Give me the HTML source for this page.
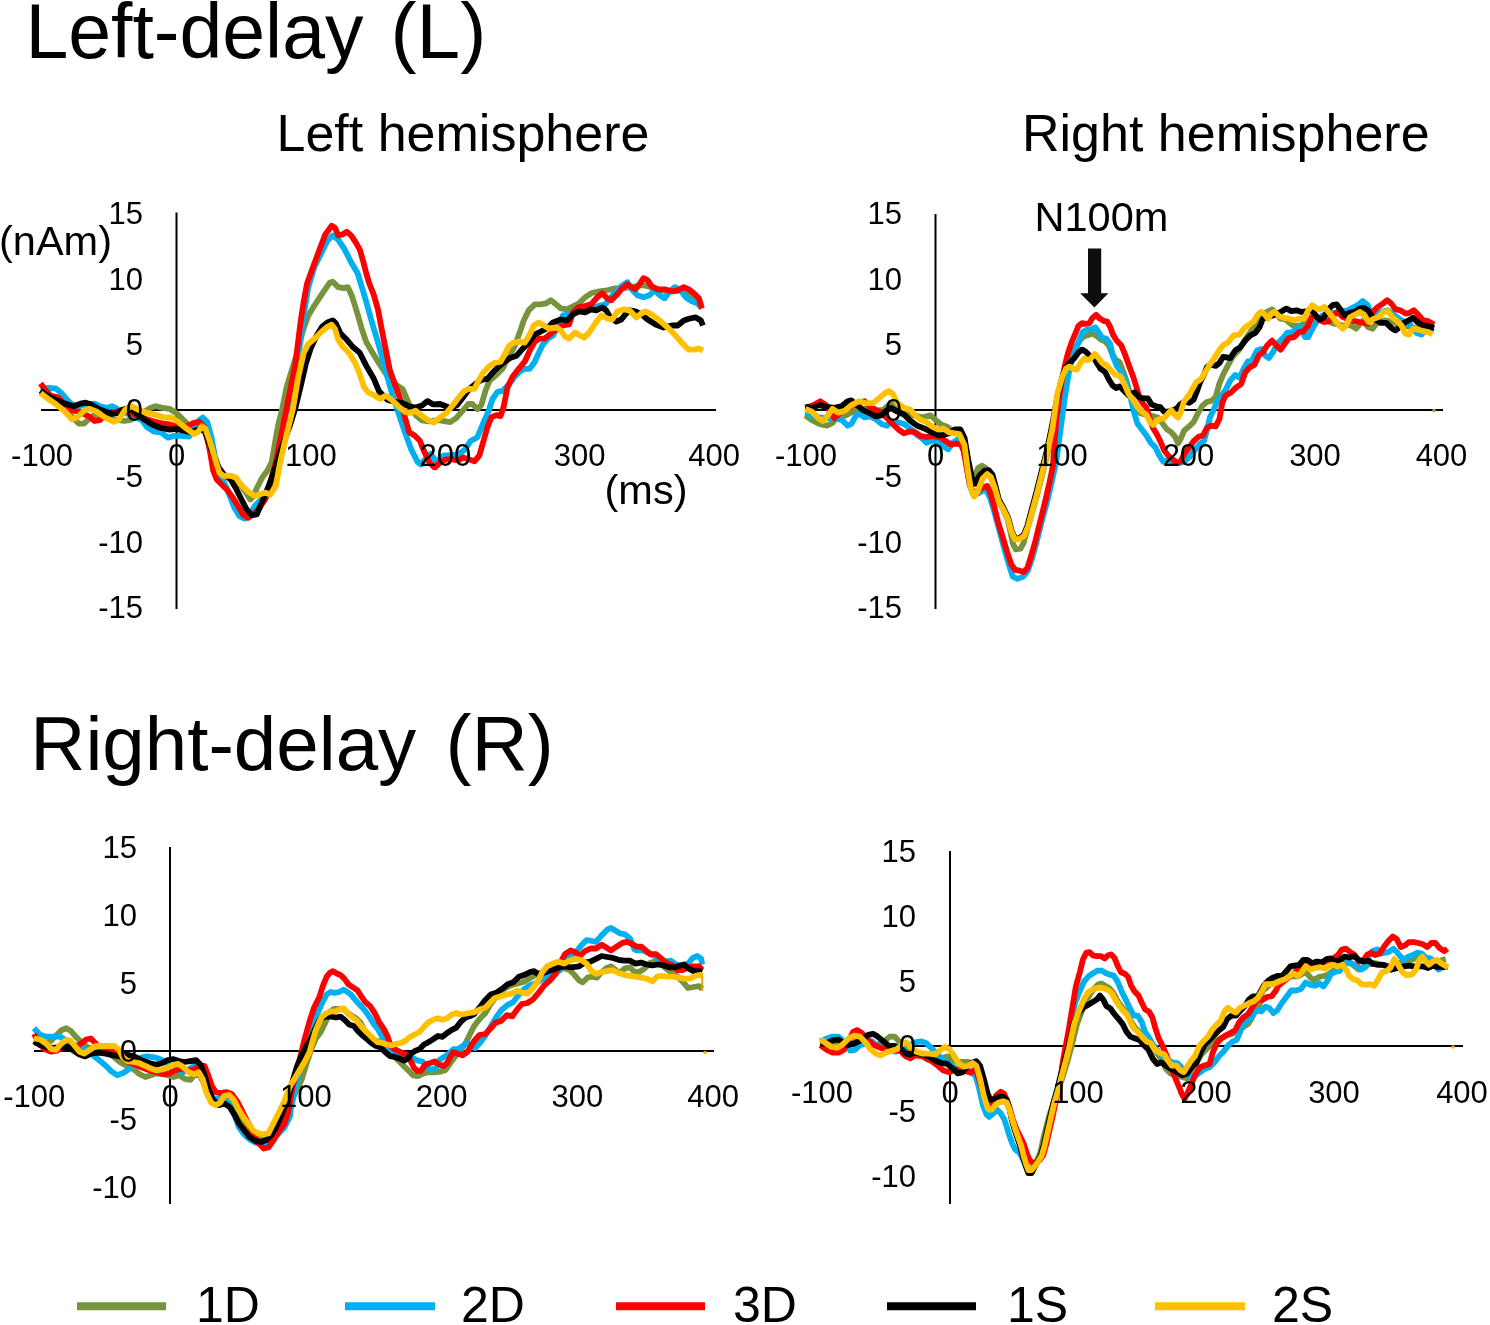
<!DOCTYPE html>
<html><head><meta charset="utf-8"><title>Figure</title>
<style>
html,body{margin:0;padding:0;background:#fff;}
body{width:1490px;height:1325px;overflow:hidden;font-family:"Liberation Sans",sans-serif;}
svg{display:block}
.t{font-family:"Liberation Sans",sans-serif;fill:#000}
.k{font-family:"Liberation Sans",sans-serif;fill:#000;font-size:31px}
.c path{fill:none;stroke-width:5.8;stroke-linejoin:round;stroke-linecap:butt}
.ax line{stroke:#000;stroke-width:2}
</style></head><body>
<svg width="1490" height="1325" viewBox="0 0 1490 1325">
<rect width="1490" height="1325" fill="#fff"/>

<g class="ax">
<line x1="176.5" y1="212.5" x2="176.5" y2="609"/>
<line x1="41" y1="410" x2="716" y2="410"/>
<line x1="935.5" y1="214" x2="935.5" y2="609"/>
<line x1="805" y1="410" x2="1443" y2="410"/>
<line x1="170" y1="847" x2="170" y2="1204"/>
<line x1="34" y1="1051" x2="714" y2="1051"/>
<line x1="950" y1="851" x2="950" y2="1204"/>
<line x1="820" y1="1046" x2="1463" y2="1046"/>
</g>
<g class="c">
<path d="M40.5 392.2 L50.9 399.2 L64.9 409.7 L73.6 418.4 L78.9 423.6 L84.1 423.6 L88.5 419.3 L94.6 414.9 L103.3 414.9 L113.8 419.3 L124.2 421.0 L129.5 420.1 L134.7 417.5 L143.4 412.3 L150.4 407.9 L155.6 406.2 L162.6 407.9 L169.6 408.8 L176.6 413.2 L181.8 418.4 L187.0 423.6 L194.0 428.9 L202.8 427.1 L209.7 442.8 L215.0 460.3 L219.3 471.6 L223.7 475.6 L230.7 476.0 L235.9 478.1 L241.1 485.6 L246.4 493.4 L250.2 499.5 L253.4 496.6 L256.8 488.2 L262.1 477.7 L267.3 470.7 L271.7 462.0 L278.0 425.8 L282.3 408.6 L286.6 387.1 L291.9 369.9 L297.3 352.7 L302.7 331.2 L308.1 316.1 L314.5 305.3 L323.1 292.4 L329.6 282.8 L332.8 281.7 L338.2 287.1 L343.6 288.1 L347.9 287.1 L352.2 296.7 L357.5 313.9 L361.8 329.0 L366.2 341.9 L372.6 352.7 L379.1 363.4 L387.7 376.3 L396.3 384.9 L402.7 389.2 L409.2 404.3 L415.6 415.0 L422.1 420.4 L428.5 421.5 L438.1 420.1 L444.2 421.1 L450.2 422.1 L456.2 418.1 L462.3 411.1 L468.3 404.0 L472.3 404.0 L477.4 409.1 L481.4 405.0 L485.4 390.9 L489.5 380.9 L496.5 374.8 L502.6 368.8 L508.6 356.7 L514.6 346.6 L519.7 332.6 L523.7 320.5 L528.7 310.4 L534.8 304.4 L540.8 304.4 L545.8 303.4 L550.9 300.3 L554.9 303.4 L560.9 308.4 L567.0 309.4 L573.0 306.4 L579.1 303.4 L585.1 297.3 L591.1 293.3 L599.2 291.3 L607.2 290.3 L615.3 288.3 L621.3 288.3 L631.4 287.2 L641.5 285.2 L647.5 286.2 L653.6 288.3 L661.6 290.3 L671.7 291.3 L681.7 290.3 L691.8 296.3 L701.9 308.4" stroke="#77933C"/>
<path d="M40.5 388.7 L49.2 387.9 L56.2 388.7 L61.4 393.1 L66.6 399.2 L71.9 404.4 L78.9 406.2 L87.6 404.4 L94.6 403.6 L99.8 406.2 L106.8 407.9 L112.0 406.2 L117.2 408.8 L122.5 412.3 L131.2 414.9 L141.7 420.1 L146.9 427.1 L153.9 431.5 L160.9 432.3 L167.9 437.6 L174.8 435.8 L181.8 435.8 L188.8 436.7 L194.0 430.6 L199.3 420.1 L202.8 417.5 L207.1 421.9 L211.5 437.6 L215.0 456.8 L220.2 474.2 L228.9 493.4 L234.2 507.4 L239.4 516.1 L244.6 518.7 L249.9 514.4 L255.1 505.6 L262.1 498.7 L269.1 491.7 L271.5 483.9 L278.0 458.1 L284.4 427.9 L290.9 397.8 L297.3 365.6 L302.7 322.5 L308.1 288.1 L314.5 266.6 L323.1 249.4 L327.4 240.8 L332.8 235.4 L338.2 239.7 L344.6 249.4 L351.1 262.3 L357.5 273.1 L362.9 290.3 L367.2 305.3 L372.6 324.7 L379.1 346.2 L385.5 369.9 L392.0 393.5 L398.4 412.9 L404.9 432.2 L411.3 449.5 L417.8 462.4 L421.0 464.5 L424.2 460.2 L430.7 453.8 L436.1 461.4 L444.2 455.4 L450.2 455.4 L458.3 454.4 L465.3 449.3 L470.3 441.3 L477.4 437.2 L482.4 425.2 L488.5 411.1 L492.5 399.0 L497.5 391.9 L502.6 390.9 L508.6 384.9 L514.6 376.8 L520.7 370.8 L524.7 368.8 L529.7 368.8 L534.8 361.7 L538.8 352.7 L542.8 344.6 L547.9 338.6 L552.9 335.6 L558.9 324.5 L563.0 315.4 L569.0 314.4 L577.0 310.4 L587.1 308.4 L597.2 306.4 L605.2 304.4 L613.3 294.3 L621.3 286.2 L627.4 282.2 L632.4 290.3 L637.4 295.3 L643.5 297.3 L649.5 295.3 L654.6 290.3 L659.6 295.3 L664.6 298.3 L669.7 291.3 L674.7 287.2 L679.7 289.3 L685.8 297.3 L691.8 301.3 L697.9 303.4 L701.9 306.4" stroke="#00B0F0"/>
<path d="M40.5 383.5 L45.7 390.5 L50.9 395.7 L57.9 397.4 L64.9 404.4 L71.9 410.5 L77.1 411.4 L82.3 413.2 L89.3 416.6 L94.6 421.0 L99.8 420.1 L105.0 414.9 L112.0 413.2 L120.7 410.5 L127.7 411.4 L134.7 414.9 L141.7 417.5 L152.1 421.0 L162.6 423.6 L169.6 424.5 L178.3 427.1 L187.0 426.2 L194.0 422.8 L199.3 421.9 L204.5 427.1 L209.7 449.8 L213.2 470.7 L216.7 479.5 L221.9 484.7 L227.2 489.9 L232.4 496.9 L237.7 505.6 L242.9 514.4 L248.1 517.9 L253.4 514.4 L258.6 509.1 L265.6 498.7 L270.4 481.7 L275.8 462.4 L282.3 430.1 L288.7 397.8 L295.2 365.6 L300.5 322.5 L303.8 301.0 L307.0 283.8 L312.4 268.8 L318.8 251.6 L325.3 234.4 L331.7 225.8 L335.0 227.9 L338.2 235.4 L342.5 234.4 L346.8 231.8 L351.1 235.4 L355.4 241.9 L359.7 249.4 L362.9 260.2 L366.2 273.1 L369.4 283.8 L373.7 294.6 L378.0 309.6 L381.2 326.8 L385.5 348.4 L389.8 369.9 L395.2 384.9 L400.6 400.0 L404.9 417.2 L409.2 432.2 L414.5 435.5 L419.9 440.8 L424.2 451.6 L429.6 462.4 L433.9 467.1 L435.1 467.4 L440.1 462.4 L446.2 459.4 L452.2 459.4 L458.3 460.4 L463.3 457.4 L469.3 459.4 L474.4 461.4 L479.4 455.4 L483.4 441.3 L487.4 427.2 L491.5 417.1 L496.5 415.1 L500.5 416.1 L503.6 407.0 L507.6 386.9 L512.6 376.8 L518.7 368.8 L524.7 361.7 L529.7 350.7 L534.8 341.6 L539.8 338.6 L544.8 338.6 L550.9 333.6 L556.9 328.5 L563.0 325.5 L569.0 324.5 L573.0 312.4 L578.1 307.4 L584.1 306.4 L591.1 304.4 L597.2 297.3 L602.2 293.3 L607.2 298.3 L611.3 300.3 L616.3 295.3 L621.3 289.3 L627.4 284.2 L631.4 287.2 L635.4 289.3 L639.5 284.2 L643.5 278.2 L647.5 280.2 L651.5 286.2 L657.6 289.3 L664.6 289.3 L671.7 291.3 L677.7 290.3 L683.8 287.2 L688.8 289.3 L693.8 293.3 L698.9 298.3 L701.9 308.4" stroke="#FF0000"/>
<path d="M40.5 390.5 L47.4 395.7 L56.2 400.1 L64.9 403.6 L73.6 406.2 L80.6 403.6 L85.8 402.7 L91.1 404.4 L98.1 408.8 L105.0 411.4 L112.0 414.0 L117.2 413.2 L122.5 409.7 L129.5 407.9 L138.2 414.9 L145.2 420.1 L152.1 424.5 L160.9 428.0 L169.6 429.7 L176.6 428.9 L183.6 430.6 L190.5 432.3 L197.5 429.7 L204.5 430.6 L211.5 449.8 L218.5 467.2 L223.7 474.2 L230.7 479.5 L235.9 488.2 L241.1 498.7 L246.4 509.1 L251.6 515.2 L256.8 514.4 L264.2 496.8 L270.4 481.7 L276.9 462.4 L283.3 443.0 L289.8 425.8 L295.2 408.6 L300.5 387.1 L305.9 363.4 L310.7 348.4 L316.7 335.5 L322.1 326.8 L327.4 322.5 L332.8 320.4 L336.0 323.6 L340.3 333.3 L346.8 339.8 L353.2 347.3 L359.7 352.7 L366.2 365.6 L373.7 378.5 L379.1 391.4 L387.7 400.0 L396.3 402.1 L402.7 403.2 L409.2 406.4 L415.6 407.5 L422.1 405.4 L427.5 401.1 L432.8 404.3 L440.1 404.0 L445.2 406.0 L450.2 408.1 L457.2 405.0 L463.3 397.0 L469.3 388.9 L475.4 383.9 L481.4 379.9 L487.4 378.9 L492.5 372.8 L498.5 366.8 L504.6 361.7 L510.6 357.7 L516.6 355.7 L522.7 348.7 L528.7 342.6 L534.8 334.6 L540.8 331.5 L546.8 328.5 L552.9 322.5 L560.9 319.5 L567.0 320.5 L573.0 314.4 L579.1 311.4 L585.1 312.4 L591.1 309.4 L596.2 310.4 L602.2 307.4 L606.2 310.4 L610.3 317.4 L616.3 321.5 L621.3 319.5 L625.4 314.4 L629.4 310.4 L635.4 311.4 L641.5 314.4 L647.5 319.5 L655.6 324.5 L663.6 327.5 L671.7 325.5 L677.7 325.5 L683.8 320.5 L689.8 318.5 L695.8 317.4 L700.9 320.5 L702.9 325.5" stroke="#000000"/>
<path d="M40.5 393.1 L47.4 398.3 L56.2 404.4 L64.9 411.4 L71.9 419.3 L77.1 417.5 L84.1 410.5 L89.3 408.8 L96.3 411.4 L105.0 417.5 L113.8 421.9 L119.0 419.3 L125.1 409.7 L131.2 406.2 L138.2 409.7 L145.2 412.3 L155.6 414.9 L164.4 417.5 L171.3 417.5 L178.3 421.9 L187.0 428.9 L194.0 434.1 L198.4 431.5 L201.9 426.2 L205.4 428.9 L209.7 441.1 L215.0 458.5 L219.3 472.5 L223.7 476.0 L230.7 475.6 L235.9 477.7 L241.1 484.7 L248.1 491.7 L255.1 496.0 L260.3 494.3 L265.6 492.6 L270.4 494.6 L275.8 486.0 L280.1 462.4 L286.6 434.4 L293.0 408.6 L298.4 376.3 L303.8 352.7 L308.1 344.1 L314.5 338.7 L321.0 332.2 L327.4 326.8 L331.7 324.7 L335.0 329.0 L338.2 339.8 L342.5 346.2 L348.9 352.7 L355.4 363.4 L359.7 374.2 L364.0 387.1 L368.3 392.5 L374.8 395.7 L380.1 398.9 L385.5 395.7 L392.0 400.0 L398.4 406.4 L404.9 411.8 L410.2 412.9 L415.6 410.7 L422.1 416.1 L428.5 420.4 L433.9 422.6 L439.1 418.1 L446.2 413.1 L452.2 406.0 L458.3 398.0 L464.3 390.9 L469.3 388.9 L474.4 388.9 L478.4 380.9 L482.4 373.8 L488.5 366.8 L494.5 362.8 L500.5 361.7 L504.6 354.7 L508.6 346.6 L513.6 342.6 L519.7 341.6 L524.7 342.6 L529.7 334.6 L533.8 325.5 L538.8 322.5 L543.8 325.5 L548.9 328.5 L556.9 327.5 L560.9 330.5 L565.0 336.6 L569.0 338.6 L575.0 332.6 L580.1 335.6 L584.1 337.6 L589.1 332.6 L595.2 323.5 L601.2 315.4 L607.2 318.5 L612.3 319.5 L617.3 311.4 L623.4 309.4 L629.4 310.4 L636.4 317.4 L641.5 313.4 L645.5 311.4 L651.5 314.4 L659.6 320.5 L667.7 327.5 L674.7 334.6 L681.7 342.6 L688.8 349.7 L693.8 349.7 L698.9 348.7 L702.9 350.7" stroke="#FFC000"/>
<path d="M805.3 415.4 L811.9 420.1 L819.4 423.9 L826.9 425.7 L832.6 422.9 L836.3 417.3 L845.7 415.4 L855.1 410.7 L864.5 408.8 L873.9 410.7 L883.3 409.8 L889.0 405.1 L892.7 404.1 L896.5 406.9 L904.0 410.7 L913.4 415.4 L922.8 417.3 L930.3 415.4 L935.9 420.1 L941.6 424.8 L947.2 426.7 L952.9 431.4 L958.5 433.3 L963.8 443.8 L966.8 460.4 L969.8 475.5 L972.8 478.5 L975.1 475.5 L978.1 467.9 L981.9 465.7 L985.7 467.9 L990.2 475.5 L994.4 486.8 L998.5 500.8 L1003.0 509.0 L1007.5 519.2 L1010.6 532.8 L1012.8 543.4 L1015.8 549.4 L1020.4 548.7 L1023.4 543.4 L1026.4 532.8 L1030.2 519.2 L1032.8 510.2 L1037.3 494.3 L1042.6 473.2 L1047.8 452.1 L1052.4 430.9 L1057.7 398.4 L1062.1 380.6 L1066.6 365.9 L1071.7 354.1 L1076.9 345.2 L1081.3 338.6 L1084.3 336.3 L1088.7 334.9 L1091.7 333.4 L1096.1 335.6 L1100.5 339.3 L1105.0 341.5 L1108.7 345.2 L1112.3 354.1 L1116.0 360.0 L1119.7 362.2 L1122.7 370.3 L1126.4 380.6 L1130.4 395.4 L1134.5 407.2 L1140.4 413.1 L1146.3 414.6 L1152.2 416.1 L1158.1 417.6 L1162.6 423.5 L1167.0 429.4 L1171.4 432.3 L1175.1 436.7 L1178.1 443.4 L1181.0 438.2 L1184.0 430.8 L1189.1 426.4 L1193.6 422.0 L1198.0 413.1 L1202.4 405.7 L1206.8 402.0 L1212.0 400.6 L1215.7 396.9 L1219.4 383.6 L1223.1 374.7 L1226.0 369.0 L1230.2 361.4 L1233.6 355.6 L1238.6 350.5 L1244.5 340.5 L1250.3 332.1 L1257.0 322.0 L1262.1 315.3 L1267.1 311.9 L1272.1 309.4 L1276.3 313.6 L1280.5 318.7 L1285.6 319.5 L1290.6 323.7 L1294.0 326.2 L1300.7 325.4 L1309.1 320.3 L1317.4 318.7 L1325.8 320.3 L1334.2 323.7 L1342.6 325.4 L1351.0 325.4 L1356.0 328.7 L1360.2 323.7 L1363.6 320.3 L1367.8 327.0 L1372.8 328.7 L1376.2 323.7 L1384.6 320.3 L1393.0 322.0 L1401.3 325.4 L1409.7 327.0 L1418.1 328.7 L1426.5 328.7 L1434.1 328.7" stroke="#77933C"/>
<path d="M805.3 412.6 L811.9 415.4 L819.4 417.3 L826.9 418.2 L834.5 418.2 L842.0 420.1 L847.6 425.7 L851.4 423.9 L855.1 417.3 L858.9 413.5 L864.5 417.3 L870.2 416.3 L875.8 419.2 L881.4 423.9 L887.1 425.7 L890.8 422.0 L896.5 422.0 L904.0 423.9 L911.5 429.5 L917.1 435.1 L922.8 438.9 L926.5 442.7 L932.2 440.8 L937.8 440.8 L943.5 446.4 L948.2 449.2 L952.9 442.7 L958.5 438.9 L963.8 451.3 L966.8 467.9 L969.8 486.0 L973.6 495.1 L978.1 493.6 L982.6 490.6 L986.4 490.6 L990.2 498.1 L994.7 513.2 L1000.8 535.8 L1005.3 552.5 L1009.8 567.5 L1012.8 576.6 L1017.4 578.9 L1023.4 576.6 L1027.9 570.6 L1032.5 557.0 L1037.0 540.4 L1041.5 522.3 L1046.0 505.7 L1049.1 493.6 L1056.2 461.8 L1059.2 439.7 L1062.1 417.6 L1065.8 391.0 L1069.5 368.8 L1074.0 354.1 L1078.4 342.2 L1082.8 331.9 L1087.2 329.7 L1091.7 329.0 L1095.4 327.5 L1098.3 331.9 L1102.0 337.8 L1106.4 338.6 L1110.1 343.7 L1113.1 357.0 L1116.8 365.9 L1121.2 371.8 L1125.6 380.6 L1130.1 395.4 L1133.8 411.6 L1137.4 423.5 L1141.9 429.4 L1146.3 435.3 L1150.7 442.7 L1155.2 447.1 L1159.6 455.9 L1163.3 461.8 L1167.0 460.4 L1172.9 461.8 L1178.8 463.3 L1184.0 461.8 L1189.1 457.4 L1193.6 451.5 L1199.5 444.1 L1203.9 441.2 L1206.8 430.8 L1209.8 417.6 L1213.5 410.2 L1217.2 401.3 L1221.6 395.4 L1225.2 390.8 L1230.2 380.7 L1235.2 374.9 L1239.4 377.4 L1243.6 369.0 L1247.8 361.4 L1252.0 360.6 L1257.0 350.5 L1261.2 348.9 L1265.4 355.6 L1268.8 358.1 L1273.0 352.2 L1277.2 343.8 L1282.2 338.8 L1287.2 332.9 L1292.3 332.1 L1297.3 327.9 L1300.7 327.0 L1304.9 337.1 L1308.2 337.1 L1312.4 328.7 L1317.4 320.3 L1322.5 315.3 L1330.9 313.6 L1339.3 311.9 L1347.7 310.3 L1357.7 305.2 L1362.8 301.0 L1367.8 305.2 L1371.1 313.6 L1376.2 315.3 L1381.2 311.9 L1387.9 310.3 L1394.6 315.3 L1401.3 320.3 L1409.7 323.7 L1416.4 332.9 L1421.5 334.6 L1426.5 328.7 L1434.1 327.9" stroke="#00B0F0"/>
<path d="M805.3 407.9 L813.8 405.1 L820.4 401.3 L826.0 405.1 L830.7 412.6 L834.5 418.2 L840.1 412.6 L845.7 409.8 L851.4 406.0 L858.9 403.2 L864.5 401.3 L870.2 406.9 L875.8 409.8 L881.4 412.6 L887.1 418.2 L892.7 423.9 L898.4 429.5 L904.0 433.3 L909.6 431.4 L915.3 432.3 L920.9 436.1 L926.5 437.0 L932.2 436.1 L939.7 437.0 L945.3 440.8 L951.0 444.5 L956.6 443.6 L961.3 444.5 L963.8 451.3 L966.8 467.9 L969.8 484.5 L973.6 493.6 L978.1 490.6 L982.6 487.5 L987.2 486.0 L990.2 492.1 L994.0 505.7 L997.7 520.8 L1002.3 535.8 L1006.8 550.9 L1011.3 564.5 L1015.1 569.8 L1019.6 570.6 L1023.4 572.1 L1027.2 568.3 L1030.9 557.0 L1035.5 540.4 L1040.0 522.3 L1044.5 504.2 L1049.1 484.5 L1052.8 466.4 L1056.2 420.5 L1059.2 398.4 L1062.1 379.2 L1065.1 364.4 L1068.1 352.6 L1071.7 342.2 L1075.4 333.4 L1078.4 326.0 L1082.1 323.1 L1085.8 323.8 L1089.5 323.1 L1092.4 317.9 L1096.1 314.9 L1099.8 318.6 L1103.5 320.8 L1107.2 321.6 L1110.1 326.7 L1113.1 334.9 L1116.8 340.8 L1121.2 345.2 L1124.9 354.1 L1128.6 364.4 L1133.0 376.2 L1136.7 388.0 L1139.7 398.4 L1143.4 404.3 L1146.3 407.2 L1149.3 417.6 L1153.0 427.9 L1156.6 433.8 L1160.3 441.2 L1164.0 450.0 L1168.5 455.9 L1172.9 459.6 L1177.3 462.6 L1180.3 461.8 L1184.0 454.5 L1188.4 448.6 L1193.6 441.2 L1198.7 436.7 L1203.2 435.3 L1206.8 427.9 L1211.3 425.7 L1215.7 426.4 L1219.4 419.0 L1222.3 402.8 L1224.6 397.6 L1225.2 395.8 L1231.0 392.5 L1236.1 387.4 L1241.1 384.1 L1245.3 372.3 L1249.5 367.3 L1254.5 364.8 L1258.7 355.6 L1262.9 352.2 L1267.1 345.5 L1272.1 340.5 L1276.3 345.5 L1280.5 349.7 L1284.7 343.8 L1288.9 338.0 L1294.0 337.1 L1299.0 332.1 L1304.0 331.2 L1308.2 325.4 L1311.6 317.0 L1315.8 315.3 L1320.0 320.3 L1324.2 322.0 L1329.2 321.2 L1333.4 315.3 L1337.6 311.9 L1342.6 317.0 L1351.0 320.3 L1359.4 322.0 L1367.8 323.7 L1372.8 311.9 L1377.9 306.9 L1382.9 303.6 L1387.1 300.2 L1391.3 303.6 L1395.5 309.4 L1400.5 310.3 L1405.5 313.6 L1409.7 312.8 L1413.9 310.3 L1418.1 314.5 L1423.2 320.3 L1428.2 321.2 L1434.1 324.5" stroke="#FF0000"/>
<path d="M805.3 406.9 L811.9 407.9 L819.4 405.1 L826.9 406.9 L834.5 407.9 L842.0 406.0 L847.6 401.3 L851.4 400.4 L857.0 405.1 L862.7 409.8 L870.2 413.5 L875.8 416.3 L881.4 415.4 L886.1 410.7 L890.8 407.9 L897.4 411.6 L904.0 414.5 L909.6 420.1 L917.1 425.7 L924.7 428.6 L932.2 432.3 L937.8 435.1 L943.5 435.1 L949.1 433.3 L954.7 429.5 L960.4 429.5 L964.5 437.7 L968.3 460.4 L972.1 478.5 L975.1 483.8 L979.6 475.5 L984.2 470.9 L988.7 470.2 L992.5 474.7 L995.5 486.0 L998.9 499.6 L1003.5 507.9 L1008.0 517.4 L1011.6 530.6 L1015.2 538.6 L1019.6 538.1 L1023.7 534.8 L1027.3 526.0 L1031.7 509.4 L1036.2 492.8 L1041.5 471.7 L1046.8 450.6 L1051.3 429.4 L1057.7 395.4 L1062.1 377.7 L1065.8 367.3 L1069.5 362.9 L1074.0 358.5 L1078.4 352.6 L1082.1 349.6 L1085.8 351.8 L1089.5 355.5 L1093.9 357.8 L1096.8 362.9 L1100.5 368.8 L1105.0 371.8 L1108.7 379.2 L1112.3 385.1 L1116.0 388.0 L1119.7 386.5 L1124.2 391.0 L1128.6 395.4 L1134.5 392.4 L1138.9 396.9 L1143.4 398.4 L1147.8 398.4 L1151.5 404.3 L1156.6 406.5 L1160.3 407.2 L1164.0 411.6 L1168.5 411.6 L1172.9 410.2 L1176.6 408.7 L1180.3 404.3 L1184.7 401.3 L1189.1 402.8 L1193.6 399.8 L1196.5 392.4 L1200.2 382.1 L1203.9 374.7 L1206.8 367.3 L1210.5 364.4 L1215.7 365.9 L1219.4 362.9 L1223.1 357.0 L1225.2 357.2 L1230.2 358.1 L1235.2 350.5 L1240.3 347.2 L1245.3 340.5 L1250.3 335.4 L1255.4 332.9 L1259.6 327.0 L1262.9 318.7 L1267.1 317.0 L1273.8 315.3 L1278.9 312.8 L1282.2 311.1 L1286.4 308.6 L1291.4 311.1 L1296.5 310.3 L1301.5 311.9 L1307.4 311.1 L1312.4 310.3 L1315.8 316.1 L1320.0 319.5 L1324.2 317.0 L1328.4 309.4 L1332.6 305.2 L1336.7 304.4 L1340.9 310.3 L1344.3 315.3 L1349.3 312.8 L1354.4 311.9 L1359.4 308.6 L1363.6 307.8 L1367.8 310.3 L1371.1 315.3 L1376.2 320.3 L1381.2 322.9 L1386.2 322.9 L1391.3 327.9 L1395.5 330.4 L1399.7 327.0 L1403.9 322.9 L1408.9 320.3 L1413.1 317.8 L1417.3 322.0 L1422.3 325.4 L1428.2 326.2 L1434.1 327.9" stroke="#000000"/>
<path d="M805.3 408.8 L811.9 411.6 L818.5 418.2 L823.2 421.0 L827.9 415.4 L832.6 408.8 L838.2 412.6 L844.8 410.7 L851.4 405.1 L858.9 401.3 L866.4 403.2 L873.0 403.2 L879.6 397.6 L885.2 392.9 L889.0 391.0 L892.7 393.8 L897.4 403.2 L904.0 407.9 L910.6 409.8 L915.3 415.4 L920.9 420.1 L926.5 422.0 L932.2 426.7 L937.8 429.5 L943.5 428.6 L949.1 432.3 L954.7 433.3 L959.4 434.2 L964.5 445.3 L967.5 467.9 L970.6 487.5 L974.3 496.6 L978.1 490.6 L982.6 478.5 L987.2 474.0 L990.9 477.0 L994.7 487.5 L998.5 501.1 L1003.0 508.7 L1007.5 517.7 L1011.3 531.3 L1015.1 539.6 L1019.6 538.9 L1024.2 535.8 L1027.9 526.8 L1032.5 510.2 L1037.0 493.6 L1042.3 472.5 L1047.5 451.3 L1052.1 430.2 L1057.7 392.4 L1062.1 377.7 L1065.8 368.8 L1069.5 366.6 L1073.2 368.8 L1076.9 369.6 L1080.6 362.9 L1084.3 358.5 L1088.0 360.0 L1090.9 358.5 L1094.6 354.1 L1098.3 357.8 L1102.0 362.9 L1106.4 365.1 L1110.9 370.3 L1115.3 374.7 L1120.5 376.2 L1124.2 383.6 L1128.6 393.9 L1133.0 399.8 L1137.4 407.2 L1141.9 411.6 L1146.3 414.6 L1150.0 422.0 L1153.0 424.9 L1156.6 420.5 L1160.3 419.0 L1164.0 418.3 L1168.5 413.1 L1171.4 410.2 L1175.1 415.3 L1178.1 417.6 L1181.0 411.6 L1184.0 401.3 L1187.7 396.9 L1192.1 389.5 L1196.5 382.1 L1200.9 379.2 L1205.4 371.8 L1209.8 364.4 L1214.2 358.5 L1218.7 351.1 L1223.1 345.2 L1228.5 342.1 L1233.6 335.4 L1239.4 334.6 L1244.5 327.9 L1249.5 324.5 L1253.7 321.2 L1257.9 314.5 L1261.2 311.9 L1264.6 314.5 L1268.0 318.7 L1271.3 313.6 L1274.7 311.9 L1278.9 316.1 L1283.9 317.8 L1288.9 318.7 L1294.0 320.3 L1299.0 318.7 L1304.0 318.7 L1308.2 310.3 L1312.4 305.2 L1316.6 308.6 L1320.0 309.4 L1324.2 306.9 L1328.4 311.9 L1332.6 317.0 L1337.6 323.7 L1342.6 328.7 L1346.0 325.4 L1350.2 317.0 L1355.2 314.5 L1360.2 311.9 L1364.4 315.3 L1368.6 322.0 L1373.7 318.7 L1378.7 317.0 L1383.7 311.9 L1387.9 311.1 L1392.1 317.0 L1396.3 320.3 L1401.3 325.4 L1405.5 333.8 L1408.9 334.6 L1413.1 328.7 L1418.1 329.6 L1423.2 331.2 L1428.2 332.1 L1432.4 334.6" stroke="#FFC000"/>
<path d="M34.0 1043.2 L40.0 1042.3 L45.7 1043.2 L51.3 1040.4 L56.9 1034.8 L61.6 1030.1 L66.3 1028.2 L71.0 1031.0 L75.7 1036.6 L80.4 1041.3 L87.0 1047.0 L94.5 1048.9 L102.0 1049.8 L109.6 1052.6 L115.2 1058.3 L119.9 1062.0 L126.5 1065.8 L134.0 1069.5 L139.6 1074.2 L145.3 1077.0 L150.9 1075.2 L156.5 1073.3 L162.2 1074.2 L167.8 1075.2 L173.5 1077.0 L179.1 1075.2 L184.7 1078.9 L190.4 1079.9 L194.1 1075.2 L199.8 1075.2 L203.5 1082.7 L208.2 1095.8 L212.9 1103.4 L218.6 1103.4 L224.2 1099.6 L229.8 1099.6 L234.5 1105.2 L239.2 1114.6 L243.9 1122.1 L249.6 1131.5 L255.2 1137.2 L260.8 1140.0 L266.5 1139.1 L271.2 1133.4 L276.8 1125.9 L282.4 1116.5 L288.1 1105.2 L290.0 1101.5 L292.8 1097.0 L297.4 1089.3 L302.0 1078.5 L306.7 1063.1 L311.3 1049.2 L315.9 1038.4 L320.6 1032.2 L325.2 1022.9 L329.8 1012.1 L333.7 1009.0 L339.1 1009.0 L343.7 1009.0 L348.4 1013.7 L356.1 1018.3 L360.7 1022.9 L365.3 1032.2 L371.5 1039.9 L379.2 1041.4 L386.9 1049.2 L394.7 1056.9 L399.3 1061.5 L403.9 1066.1 L408.6 1070.8 L413.2 1075.4 L417.8 1076.2 L422.4 1073.9 L427.1 1072.3 L434.8 1072.3 L441.0 1071.5 L445.6 1070.0 L450.2 1063.1 L454.9 1056.9 L460.3 1050.7 L465.7 1043.0 L473.8 1026.5 L479.5 1019.0 L485.1 1013.4 L490.7 1004.0 L496.4 996.4 L503.9 988.9 L511.4 985.2 L518.9 983.3 L524.6 981.4 L534.0 975.8 L543.4 972.0 L552.8 968.3 L560.3 966.4 L564.0 968.3 L569.7 970.1 L574.4 974.8 L579.1 980.5 L582.8 982.3 L587.5 977.7 L592.2 976.7 L596.9 977.7 L601.6 972.0 L606.3 968.3 L611.0 966.4 L615.7 970.1 L619.5 973.0 L625.1 968.3 L629.8 967.3 L634.5 972.0 L639.2 972.0 L644.8 968.3 L650.5 962.6 L656.1 961.7 L661.7 964.5 L665.5 968.3 L671.1 972.0 L676.8 975.8 L682.4 981.4 L688.1 988.0 L693.7 987.0 L699.3 986.1 L702.1 988.9" stroke="#77933C"/>
<path d="M34.0 1028.2 L40.0 1034.8 L45.7 1036.6 L53.2 1036.6 L59.8 1036.6 L66.3 1040.4 L73.9 1045.1 L81.4 1048.9 L88.9 1052.6 L94.5 1056.4 L100.2 1061.1 L105.8 1065.8 L111.4 1071.4 L117.1 1075.2 L122.7 1073.3 L128.4 1069.5 L134.0 1063.9 L141.5 1057.3 L147.1 1056.4 L154.7 1057.3 L160.3 1059.2 L167.8 1063.9 L175.3 1068.6 L182.9 1072.3 L188.5 1069.5 L194.1 1065.8 L199.8 1067.7 L203.5 1077.0 L208.2 1090.2 L212.9 1097.7 L216.7 1098.7 L222.3 1097.7 L228.0 1101.5 L233.6 1112.8 L239.2 1127.8 L244.9 1135.3 L250.5 1140.0 L256.1 1142.8 L261.8 1143.8 L267.4 1142.8 L273.1 1139.1 L278.7 1133.4 L284.3 1127.8 L290.0 1116.5 L291.2 1106.3 L294.3 1093.9 L299.0 1072.3 L305.1 1050.7 L311.3 1029.1 L317.5 1013.7 L322.1 1002.9 L326.7 994.4 L330.6 992.0 L334.5 992.8 L339.1 992.0 L343.7 989.7 L347.6 992.0 L351.4 995.1 L355.3 999.8 L359.2 1004.4 L363.8 1009.0 L368.4 1015.2 L373.1 1022.9 L377.7 1029.1 L382.3 1036.8 L386.9 1044.5 L391.6 1050.7 L397.8 1053.8 L403.9 1055.3 L408.6 1056.9 L413.2 1058.4 L417.8 1060.7 L422.4 1061.5 L427.1 1067.7 L431.7 1070.0 L436.3 1067.7 L439.4 1060.0 L444.1 1056.9 L448.7 1053.8 L453.3 1049.2 L458.0 1049.2 L462.6 1046.1 L467.2 1043.0 L474.8 1048.1 L479.5 1043.4 L485.1 1035.9 L490.7 1026.5 L496.4 1017.1 L502.0 1009.6 L507.7 1004.9 L513.3 1002.1 L518.9 994.6 L524.6 988.9 L530.2 985.2 L535.8 983.3 L541.5 979.5 L547.1 977.7 L552.8 973.9 L560.3 970.1 L567.8 957.0 L575.3 953.2 L580.9 945.7 L586.6 940.1 L592.2 941.0 L596.0 941.9 L601.6 935.4 L607.2 929.7 L611.0 927.9 L615.7 930.7 L620.4 933.5 L625.1 934.4 L629.8 938.2 L634.5 949.5 L637.3 950.4 L643.0 950.4 L648.6 953.2 L654.2 956.0 L659.9 959.8 L665.5 961.7 L671.1 960.7 L674.9 963.6 L681.5 966.4 L688.1 963.6 L692.8 957.9 L697.4 956.0 L701.2 958.9 L702.1 964.5" stroke="#00B0F0"/>
<path d="M34.0 1033.8 L38.2 1041.3 L43.8 1048.9 L51.3 1051.7 L56.9 1050.7 L62.6 1047.0 L70.1 1045.1 L75.7 1047.0 L81.4 1043.2 L86.1 1039.5 L90.8 1038.5 L94.5 1042.3 L98.3 1046.0 L105.8 1048.9 L113.3 1050.7 L120.8 1056.4 L128.4 1062.0 L137.8 1065.8 L147.1 1069.5 L156.5 1072.3 L164.1 1074.2 L169.7 1073.3 L175.3 1070.5 L181.0 1068.6 L188.5 1070.5 L194.1 1069.5 L199.8 1065.8 L204.5 1065.8 L208.2 1075.2 L212.0 1086.4 L215.7 1092.1 L220.4 1093.0 L226.1 1092.1 L231.7 1094.0 L237.3 1101.5 L242.0 1110.9 L246.7 1120.3 L252.4 1131.5 L258.0 1142.8 L263.7 1148.5 L268.4 1147.5 L273.1 1140.9 L278.7 1131.5 L284.3 1124.0 L288.1 1112.8 L291.7 1090.8 L295.6 1075.4 L300.2 1056.9 L304.8 1038.4 L309.5 1021.4 L314.1 1007.5 L319.5 996.7 L322.9 985.9 L326.7 976.6 L329.8 972.8 L332.9 971.2 L336.8 973.5 L340.6 975.1 L344.5 978.9 L348.4 984.3 L353.0 987.4 L357.6 990.5 L361.5 996.7 L365.3 1002.1 L370.0 1005.9 L374.6 1012.9 L379.2 1022.1 L383.9 1029.1 L387.7 1036.8 L390.8 1046.1 L394.7 1049.2 L399.3 1051.5 L403.9 1053.8 L407.8 1055.3 L410.9 1061.5 L414.0 1067.7 L417.0 1070.8 L420.9 1070.8 L425.5 1064.6 L430.2 1063.1 L434.8 1061.5 L439.4 1064.6 L443.3 1066.1 L447.1 1063.1 L450.2 1056.9 L453.3 1052.2 L458.0 1053.8 L462.6 1055.3 L467.2 1052.2 L473.8 1041.5 L479.5 1035.0 L485.1 1034.0 L490.7 1028.4 L495.4 1022.8 L501.1 1020.9 L506.7 1015.2 L512.3 1016.2 L517.0 1009.6 L521.7 1004.0 L527.4 1003.0 L533.0 999.3 L538.7 992.7 L544.3 985.2 L549.9 980.5 L555.6 973.9 L560.3 962.6 L565.0 954.2 L570.6 950.4 L575.3 952.3 L580.0 956.0 L584.7 951.3 L590.3 948.5 L596.0 948.5 L601.6 944.8 L606.3 947.6 L611.0 950.4 L616.6 946.6 L622.3 942.9 L627.0 941.9 L631.7 943.8 L636.4 946.6 L641.1 946.6 L645.8 950.4 L650.5 954.2 L656.1 954.2 L661.7 958.9 L667.4 963.6 L673.0 965.4 L677.7 970.1 L682.4 970.1 L688.1 967.3 L693.7 966.4 L699.3 966.4 L702.1 970.1" stroke="#FF0000"/>
<path d="M34.0 1041.3 L40.0 1045.1 L45.7 1047.0 L53.2 1047.9 L60.7 1047.0 L68.2 1047.0 L73.9 1050.7 L79.5 1054.5 L85.1 1056.4 L90.8 1053.6 L98.3 1052.6 L105.8 1053.6 L113.3 1055.4 L119.0 1056.4 L126.5 1054.5 L134.0 1056.4 L141.5 1060.1 L149.0 1063.0 L156.5 1064.8 L162.2 1063.0 L167.8 1060.1 L173.5 1059.2 L179.1 1061.1 L184.7 1062.0 L190.4 1061.1 L196.0 1060.1 L200.7 1064.8 L204.5 1075.2 L208.2 1088.3 L212.9 1099.6 L218.6 1105.2 L224.2 1103.4 L229.8 1107.1 L234.5 1114.6 L239.2 1124.0 L243.9 1129.7 L249.6 1137.2 L255.2 1140.9 L260.8 1141.9 L266.5 1140.0 L271.2 1135.3 L276.8 1125.9 L282.4 1112.8 L288.1 1097.7 L292.5 1081.6 L297.1 1066.1 L301.7 1055.3 L306.4 1046.1 L310.7 1039.9 L314.4 1030.6 L318.4 1022.1 L321.3 1018.3 L326.0 1016.3 L331.4 1016.7 L336.0 1017.5 L340.6 1016.7 L344.5 1019.8 L349.1 1024.5 L353.8 1026.0 L357.6 1030.6 L362.2 1035.3 L366.9 1039.1 L371.5 1043.0 L376.1 1046.1 L380.8 1047.6 L385.4 1052.2 L390.0 1056.1 L394.7 1056.9 L399.3 1058.4 L403.9 1060.7 L407.8 1058.4 L410.9 1053.8 L415.5 1050.7 L419.4 1049.2 L424.0 1044.5 L428.6 1042.2 L433.3 1039.1 L437.9 1036.0 L442.5 1036.8 L447.1 1033.0 L451.8 1029.9 L456.4 1027.6 L461.0 1021.4 L465.7 1017.5 L469.5 1016.3 L473.8 1014.3 L479.5 1007.7 L485.1 1000.2 L490.7 994.6 L496.4 992.7 L502.0 988.9 L507.7 984.2 L513.3 982.3 L518.9 976.7 L524.6 974.8 L530.2 972.0 L534.0 971.1 L537.7 973.9 L543.4 973.0 L549.0 971.1 L556.5 968.3 L564.0 966.4 L571.5 967.3 L579.1 966.4 L584.7 962.6 L590.3 961.7 L596.0 958.9 L601.6 956.0 L607.2 957.0 L612.9 957.9 L618.5 959.8 L624.2 960.7 L629.8 960.7 L635.4 963.6 L641.1 962.6 L646.7 964.5 L652.3 965.4 L658.0 964.5 L663.6 965.4 L669.3 967.3 L674.9 967.3 L680.5 965.4 L684.3 964.5 L688.1 968.3 L693.7 971.1 L699.3 971.1 L702.1 972.0" stroke="#000000"/>
<path d="M34.0 1038.5 L40.0 1039.5 L45.7 1043.2 L51.3 1048.9 L56.0 1049.8 L60.7 1044.2 L65.4 1040.4 L70.1 1040.4 L74.8 1046.0 L79.5 1051.7 L84.2 1053.6 L89.8 1049.8 L95.5 1046.0 L102.0 1046.0 L108.6 1046.0 L114.3 1046.0 L119.0 1049.8 L122.7 1057.3 L127.4 1061.1 L133.1 1062.0 L138.7 1063.0 L145.3 1065.8 L150.9 1068.6 L156.5 1070.5 L162.2 1069.5 L167.8 1067.7 L173.5 1064.8 L178.2 1063.9 L182.9 1066.7 L188.5 1072.3 L194.1 1074.2 L198.8 1072.3 L202.6 1078.9 L206.3 1092.1 L211.0 1102.4 L215.7 1105.2 L220.4 1102.4 L224.2 1095.8 L228.9 1094.9 L233.6 1099.6 L238.3 1109.0 L243.0 1116.5 L248.6 1124.0 L253.3 1130.6 L258.0 1133.4 L263.7 1134.4 L268.4 1133.4 L273.1 1124.0 L278.7 1112.8 L284.3 1101.5 L290.0 1086.4 L290.9 1084.7 L295.6 1076.9 L300.2 1069.2 L304.8 1061.5 L309.5 1052.2 L312.5 1041.4 L315.6 1030.6 L319.5 1021.4 L322.1 1016.7 L326.7 1012.9 L331.4 1011.3 L336.0 1011.3 L339.9 1009.0 L343.7 1008.3 L346.8 1012.1 L351.4 1016.7 L356.1 1019.8 L359.9 1024.5 L363.8 1029.1 L368.4 1033.7 L373.1 1038.4 L377.7 1042.2 L382.3 1043.0 L386.9 1044.5 L391.6 1045.3 L396.2 1043.8 L400.8 1043.0 L405.5 1040.7 L410.1 1036.8 L414.7 1034.5 L419.4 1032.2 L424.0 1026.8 L428.6 1022.1 L433.3 1019.8 L437.9 1018.3 L442.5 1019.8 L447.1 1018.3 L451.8 1014.4 L456.4 1012.9 L461.0 1014.4 L465.7 1013.7 L469.5 1013.0 L473.8 1012.4 L479.5 1009.6 L485.1 1007.7 L489.8 1003.0 L494.5 998.3 L500.1 996.4 L505.8 994.6 L511.4 993.6 L517.0 990.8 L522.7 992.7 L527.4 993.6 L532.1 988.9 L537.7 981.4 L542.4 972.0 L547.1 966.4 L552.8 963.6 L558.4 961.7 L564.0 963.6 L569.7 960.7 L575.3 958.9 L580.9 959.8 L586.6 963.6 L591.3 971.1 L596.0 973.9 L601.6 972.0 L607.2 971.1 L612.9 970.1 L618.5 973.0 L624.2 974.8 L629.8 975.8 L635.4 976.7 L641.1 977.7 L646.7 978.6 L652.3 981.4 L657.0 976.7 L661.7 975.8 L667.4 976.7 L673.0 976.7 L678.7 977.7 L684.3 978.6 L689.9 978.6 L695.6 975.8 L700.3 974.8 L702.3 975.8" stroke="#FFC000"/>
<path d="M820.3 1047.0 L826.9 1045.1 L834.4 1043.2 L841.9 1043.2 L849.5 1040.4 L857.0 1037.6 L864.5 1040.4 L872.0 1045.1 L879.5 1044.2 L885.2 1040.4 L889.9 1036.6 L894.6 1036.6 L898.3 1040.4 L902.1 1046.0 L909.6 1050.7 L917.1 1052.6 L922.8 1056.4 L928.4 1060.1 L935.9 1060.1 L941.5 1058.3 L947.2 1056.4 L950.9 1059.2 L957.5 1062.0 L964.1 1062.0 L967.9 1062.0 L973.5 1063.0 L977.2 1067.7 L981.0 1080.8 L984.8 1095.8 L988.0 1109.7 L991.6 1109.1 L995.3 1104.3 L998.9 1101.8 L1003.1 1101.0 L1006.7 1102.5 L1009.2 1108.5 L1012.2 1119.4 L1015.2 1129.0 L1018.2 1137.5 L1021.2 1145.9 L1023.6 1155.6 L1026.1 1164.0 L1028.5 1169.5 L1031.5 1169.5 L1034.3 1165.2 L1037.5 1159.2 L1040.5 1152.0 L1043.3 1138.7 L1046.3 1126.6 L1049.6 1114.5 L1053.2 1103.7 L1058.7 1089.2 L1062.9 1075.9 L1067.1 1062.6 L1071.1 1048.1 L1077.1 1023.8 L1081.9 1010.9 L1086.2 1000.4 L1090.3 994.0 L1094.3 988.3 L1098.3 984.3 L1101.5 983.5 L1105.6 985.9 L1109.6 988.3 L1113.6 993.2 L1117.7 1001.2 L1122.5 1007.7 L1126.5 1012.5 L1130.5 1020.5 L1134.6 1027.0 L1140.2 1032.6 L1145.0 1036.6 L1149.9 1039.9 L1154.7 1049.5 L1161.1 1059.2 L1166.0 1068.9 L1170.8 1073.7 L1176.4 1075.3 L1182.1 1076.9 L1186.9 1078.5 L1191.7 1068.9 L1196.6 1062.4 L1201.4 1054.4 L1206.2 1049.5 L1211.1 1044.7 L1217.5 1039.9 L1224.0 1036.6 L1228.8 1035.0 L1233.6 1033.4 L1238.5 1030.2 L1243.3 1027.0 L1248.1 1023.8 L1251.3 1018.9 L1256.2 1009.3 L1259.4 1005.2 L1262.2 991.3 L1270.3 984.4 L1279.9 981.2 L1289.6 976.4 L1297.7 976.4 L1305.7 972.0 L1310.5 977.7 L1313.8 980.1 L1319.4 976.8 L1324.2 976.0 L1328.3 974.4 L1334.7 969.6 L1342.8 963.2 L1350.8 963.2 L1358.9 969.6 L1366.9 964.8 L1375.0 963.2 L1383.0 964.8 L1391.1 966.4 L1399.1 963.2 L1407.2 961.5 L1415.2 958.3 L1423.3 958.3 L1431.3 959.9 L1437.8 961.5 L1442.6 959.9 L1445.8 959.1" stroke="#77933C"/>
<path d="M820.3 1041.3 L826.9 1038.5 L832.6 1036.6 L838.2 1036.6 L842.9 1040.4 L850.4 1050.7 L855.1 1049.8 L859.8 1045.1 L864.5 1044.2 L872.0 1041.3 L875.8 1045.1 L881.4 1047.0 L888.9 1049.8 L895.5 1051.7 L901.1 1050.7 L907.7 1046.0 L915.2 1042.3 L920.9 1041.3 L926.5 1043.2 L931.2 1047.9 L935.0 1051.7 L941.5 1058.3 L949.1 1063.9 L954.7 1067.7 L960.3 1069.5 L967.9 1071.4 L975.4 1075.2 L979.1 1088.3 L982.9 1105.2 L986.6 1114.6 L989.2 1116.9 L993.5 1113.3 L997.1 1109.7 L1000.7 1113.3 L1004.3 1119.4 L1006.7 1126.6 L1009.2 1135.1 L1012.2 1143.5 L1015.2 1149.5 L1018.8 1152.0 L1021.8 1156.8 L1024.8 1164.0 L1027.9 1169.5 L1031.5 1170.1 L1034.5 1166.5 L1037.9 1161.6 L1041.3 1155.6 L1044.2 1144.7 L1047.1 1131.4 L1050.0 1118.2 L1052.9 1104.9 L1057.5 1088.0 L1061.1 1073.5 L1064.7 1060.2 L1068.3 1045.7 L1071.3 1033.6 L1075.0 1002.8 L1079.0 993.2 L1083.8 981.9 L1088.7 976.2 L1093.5 973.0 L1097.5 970.6 L1101.5 970.6 L1105.6 973.0 L1109.6 974.6 L1113.6 975.4 L1117.7 981.9 L1121.7 991.5 L1125.7 999.6 L1129.7 1007.7 L1133.8 1015.7 L1137.8 1015.7 L1141.8 1022.1 L1145.0 1031.8 L1148.3 1036.6 L1153.1 1044.7 L1157.9 1051.1 L1162.8 1056.0 L1167.6 1060.0 L1172.4 1062.4 L1177.2 1063.2 L1181.3 1067.2 L1185.3 1070.5 L1191.7 1078.5 L1198.2 1073.7 L1204.6 1068.9 L1209.5 1067.2 L1214.3 1062.4 L1219.1 1056.0 L1224.0 1051.1 L1228.8 1044.7 L1232.8 1041.5 L1236.8 1039.9 L1240.1 1031.8 L1243.3 1023.8 L1248.1 1020.5 L1252.1 1015.7 L1256.2 1010.9 L1259.4 1010.9 L1261.4 1011.5 L1265.4 1006.6 L1269.5 1008.3 L1273.5 1013.1 L1277.5 1009.9 L1281.5 1003.4 L1286.4 997.0 L1291.2 990.5 L1296.0 990.5 L1300.9 988.9 L1305.7 982.5 L1310.5 984.9 L1315.4 985.7 L1319.4 983.3 L1323.4 986.5 L1327.4 980.9 L1330.7 974.4 L1334.7 972.0 L1339.5 971.2 L1343.6 964.8 L1348.4 961.5 L1352.4 964.0 L1357.2 965.6 L1361.3 969.6 L1365.3 967.2 L1368.5 956.7 L1372.6 951.1 L1377.4 949.5 L1381.4 953.5 L1388.7 951.9 L1393.5 948.7 L1397.5 952.7 L1400.7 956.7 L1404.0 959.9 L1408.0 956.7 L1412.8 955.1 L1417.7 952.7 L1421.7 953.5 L1425.7 957.5 L1430.5 958.3 L1434.6 964.8 L1438.6 969.6 L1442.6 967.2 L1447.4 966.4" stroke="#00B0F0"/>
<path d="M820.3 1045.1 L826.9 1049.8 L832.6 1052.6 L838.2 1052.6 L843.8 1049.8 L848.5 1041.3 L853.2 1031.9 L857.0 1030.1 L861.7 1032.9 L866.4 1038.5 L873.9 1045.1 L883.3 1048.9 L892.7 1049.8 L900.2 1050.7 L905.8 1056.4 L910.5 1058.3 L915.2 1055.4 L922.8 1056.4 L930.3 1060.1 L937.8 1065.8 L943.4 1070.5 L949.1 1072.3 L954.7 1069.5 L960.3 1070.5 L966.0 1071.4 L970.7 1072.3 L975.4 1069.5 L979.1 1078.9 L982.9 1092.1 L988.6 1107.3 L992.2 1102.5 L996.5 1095.2 L1000.7 1091.6 L1004.3 1094.0 L1007.3 1101.2 L1009.8 1108.5 L1012.8 1119.4 L1016.4 1129.0 L1020.0 1136.3 L1023.6 1143.5 L1026.7 1153.2 L1029.7 1160.4 L1032.7 1162.8 L1035.7 1162.8 L1039.3 1160.4 L1043.0 1155.6 L1046.2 1144.7 L1049.2 1131.4 L1052.3 1118.2 L1055.0 1104.9 L1058.7 1089.2 L1060.8 1075.9 L1062.9 1061.4 L1065.3 1048.1 L1068.3 1032.4 L1075.8 986.7 L1079.8 972.2 L1083.0 959.3 L1086.2 952.9 L1089.5 952.1 L1092.7 955.3 L1096.7 956.1 L1100.7 956.1 L1104.8 958.5 L1108.0 955.3 L1111.2 954.5 L1114.4 957.7 L1117.7 965.8 L1120.9 972.2 L1124.9 973.8 L1128.1 977.0 L1131.3 985.9 L1134.6 991.5 L1138.6 995.6 L1141.8 1002.8 L1145.0 1009.3 L1149.1 1011.7 L1152.3 1017.3 L1155.5 1028.6 L1158.7 1038.3 L1162.8 1046.3 L1166.8 1056.0 L1170.8 1067.2 L1174.8 1076.9 L1178.9 1086.6 L1182.1 1094.6 L1184.5 1098.7 L1186.9 1094.6 L1190.9 1085.0 L1195.0 1075.3 L1199.8 1067.2 L1204.6 1065.6 L1209.5 1064.0 L1212.7 1052.8 L1216.7 1043.1 L1221.5 1038.3 L1226.4 1035.0 L1231.2 1032.6 L1235.2 1030.2 L1239.3 1022.1 L1243.3 1017.3 L1248.1 1014.1 L1252.1 1007.7 L1256.2 1001.2 L1259.4 998.0 L1262.2 1000.2 L1267.0 997.0 L1271.9 996.2 L1275.9 990.5 L1278.3 985.7 L1286.4 979.3 L1294.4 972.8 L1299.3 967.2 L1305.7 964.8 L1310.5 966.4 L1315.4 965.6 L1320.2 963.2 L1326.6 961.5 L1333.1 958.3 L1337.9 955.1 L1341.9 949.5 L1346.0 948.7 L1350.0 951.9 L1354.8 955.1 L1358.9 961.5 L1363.7 959.9 L1366.9 955.1 L1370.9 952.7 L1375.0 955.1 L1379.8 953.5 L1383.8 947.0 L1388.7 940.6 L1392.7 936.6 L1396.7 939.0 L1400.7 947.0 L1404.8 945.4 L1408.8 942.2 L1413.6 942.2 L1418.5 943.0 L1423.3 944.6 L1427.3 947.0 L1431.3 943.0 L1435.4 943.0 L1439.4 947.9 L1444.2 951.1 L1447.4 948.7" stroke="#FF0000"/>
<path d="M820.3 1044.2 L826.9 1043.2 L832.6 1040.4 L838.2 1039.5 L843.8 1043.2 L847.6 1045.1 L855.1 1043.2 L862.6 1039.5 L868.3 1034.8 L873.0 1033.8 L877.7 1036.6 L883.3 1041.3 L888.9 1046.0 L894.6 1046.0 L900.2 1047.9 L904.9 1052.6 L909.6 1054.5 L915.2 1052.6 L922.8 1054.5 L930.3 1057.3 L935.9 1061.1 L941.5 1063.0 L947.2 1063.9 L952.8 1068.6 L957.5 1073.3 L962.2 1072.3 L966.0 1067.7 L971.6 1063.0 L976.3 1061.1 L980.1 1065.8 L983.8 1078.9 L987.4 1092.8 L990.4 1100.0 L994.7 1098.8 L998.3 1097.0 L1003.1 1097.0 L1006.7 1100.0 L1009.8 1109.7 L1011.8 1120.0 L1014.6 1129.6 L1017.4 1138.1 L1020.3 1146.5 L1022.7 1156.2 L1025.5 1165.2 L1028.2 1173.1 L1031.5 1173.1 L1034.3 1167.7 L1037.5 1161.6 L1040.8 1155.6 L1043.8 1144.7 L1046.8 1131.4 L1049.8 1118.2 L1052.9 1104.9 L1057.7 1088.0 L1061.3 1073.5 L1064.9 1060.2 L1068.6 1045.7 L1071.6 1033.6 L1073.4 1023.8 L1078.2 1014.1 L1083.0 1007.7 L1088.7 1004.4 L1092.7 1002.0 L1096.7 999.6 L1099.9 995.6 L1103.2 999.6 L1106.4 1006.0 L1110.4 1008.5 L1114.4 1014.1 L1118.5 1018.9 L1122.5 1023.8 L1126.5 1031.8 L1130.5 1036.6 L1134.6 1038.3 L1139.4 1039.9 L1143.4 1044.7 L1148.3 1049.5 L1153.1 1059.2 L1157.1 1064.0 L1161.1 1062.4 L1166.0 1065.6 L1170.8 1068.9 L1177.2 1072.1 L1182.1 1075.3 L1186.9 1073.7 L1191.7 1067.2 L1196.6 1062.4 L1200.6 1052.8 L1204.6 1044.7 L1209.5 1039.9 L1214.3 1035.0 L1219.1 1030.2 L1223.2 1027.0 L1227.2 1018.9 L1231.2 1015.7 L1236.0 1015.7 L1240.1 1010.9 L1244.9 1006.0 L1248.9 999.6 L1253.0 996.4 L1257.8 996.4 L1263.8 985.7 L1267.9 980.9 L1272.7 977.7 L1277.5 976.0 L1282.3 976.0 L1286.4 971.2 L1290.4 966.4 L1294.4 965.6 L1299.3 964.8 L1303.3 959.9 L1307.3 959.9 L1312.1 963.2 L1317.0 961.5 L1321.8 962.3 L1326.6 959.1 L1330.7 958.3 L1335.5 961.5 L1340.3 959.9 L1344.4 956.7 L1349.2 957.5 L1354.0 955.9 L1358.9 959.9 L1363.7 961.5 L1368.5 960.7 L1373.4 964.0 L1378.2 964.8 L1383.0 964.8 L1387.0 966.4 L1391.1 969.6 L1397.5 968.0 L1404.0 966.4 L1408.8 965.6 L1413.6 966.4 L1418.5 966.4 L1423.3 966.4 L1428.1 968.0 L1433.0 965.6 L1437.8 967.2 L1442.6 967.2 L1447.4 966.4" stroke="#000000"/>
<path d="M820.3 1039.5 L826.0 1043.2 L831.6 1047.0 L837.2 1047.9 L842.9 1044.2 L848.5 1038.5 L854.2 1035.7 L859.8 1036.6 L865.4 1042.3 L870.1 1048.9 L875.8 1053.6 L880.5 1055.4 L886.1 1052.6 L891.7 1050.7 L897.4 1048.9 L902.1 1044.2 L905.8 1042.3 L910.5 1047.0 L916.2 1051.7 L922.8 1053.6 L929.3 1053.6 L935.0 1054.5 L939.7 1050.7 L944.4 1047.0 L949.1 1048.9 L953.8 1055.4 L958.5 1063.0 L963.2 1066.7 L967.9 1065.8 L972.6 1063.0 L976.3 1065.8 L980.1 1078.9 L983.8 1095.8 L988.0 1109.1 L991.6 1109.7 L995.3 1104.9 L998.9 1102.5 L1003.1 1101.2 L1006.7 1102.5 L1009.2 1108.5 L1012.2 1119.4 L1015.2 1129.0 L1018.2 1137.5 L1021.2 1145.9 L1023.6 1155.6 L1026.1 1164.0 L1028.5 1170.1 L1031.5 1170.1 L1034.5 1166.5 L1038.1 1161.6 L1041.8 1155.6 L1044.8 1144.7 L1047.8 1131.4 L1050.8 1118.2 L1053.8 1104.9 L1058.7 1088.0 L1062.3 1073.5 L1065.9 1060.2 L1069.5 1045.7 L1074.2 1023.8 L1079.0 1010.9 L1083.8 999.6 L1087.9 992.3 L1091.9 989.9 L1095.9 988.3 L1099.9 987.5 L1104.0 988.3 L1108.0 989.9 L1112.0 993.2 L1115.2 999.6 L1119.3 1006.0 L1123.3 1010.9 L1127.3 1014.9 L1130.5 1022.1 L1133.8 1028.6 L1137.8 1031.8 L1141.8 1036.6 L1146.6 1041.5 L1150.7 1043.1 L1154.7 1049.5 L1159.5 1052.8 L1164.4 1054.4 L1167.6 1060.0 L1171.6 1065.6 L1176.4 1065.6 L1180.5 1070.5 L1183.7 1072.1 L1186.9 1067.2 L1190.9 1060.8 L1195.0 1056.0 L1199.0 1046.3 L1203.0 1041.5 L1207.9 1036.6 L1211.9 1030.2 L1215.9 1025.4 L1220.7 1020.5 L1224.8 1010.9 L1228.0 1007.7 L1232.0 1010.9 L1236.0 1012.5 L1240.1 1007.7 L1244.9 1005.2 L1249.7 1002.8 L1253.8 1001.2 L1257.8 998.0 L1262.2 990.5 L1265.4 984.1 L1270.3 984.1 L1275.1 983.3 L1279.9 980.9 L1284.8 979.3 L1289.6 976.0 L1293.6 973.6 L1297.7 976.0 L1301.7 972.0 L1305.7 966.4 L1310.5 969.6 L1315.4 968.0 L1320.2 967.2 L1325.0 968.8 L1329.1 965.6 L1333.1 964.8 L1337.9 966.4 L1342.8 964.8 L1346.0 969.6 L1349.2 976.0 L1353.2 979.3 L1357.2 980.1 L1361.3 984.1 L1366.1 984.9 L1370.1 984.1 L1374.2 985.7 L1378.2 979.3 L1382.2 972.0 L1386.2 971.2 L1390.3 968.0 L1394.3 959.1 L1398.3 964.8 L1402.3 972.0 L1406.4 975.2 L1412.0 974.4 L1416.0 969.6 L1419.3 959.9 L1422.5 956.7 L1425.7 961.5 L1428.9 964.8 L1433.0 961.5 L1437.0 959.9 L1441.0 963.2 L1445.0 965.6 L1448.3 967.2" stroke="#FFC000"/>
</g>
<line x1="702.2" y1="975" x2="702.2" y2="991" stroke="#E8A200" stroke-width="2"/><circle cx="705" cy="1052.5" r="1.8" fill="#F2B400"/><circle cx="1434" cy="410.5" r="1.8" fill="#B89A20"/><circle cx="1453" cy="1047" r="1.8" fill="#F2B400"/>
<g class="k">
<text x="143" y="223.8" text-anchor="end">15</text>
<text x="143" y="289.5" text-anchor="end">10</text>
<text x="143" y="355.2" text-anchor="end">5</text>
<text x="143" y="421.0" text-anchor="end">0</text>
<text x="143" y="486.8" text-anchor="end">-5</text>
<text x="143" y="552.5" text-anchor="end">-10</text>
<text x="143" y="618.2" text-anchor="end">-15</text>
<text x="42.1" y="465.5" text-anchor="middle">-100</text>
<text x="176.5" y="465.5" text-anchor="middle">0</text>
<text x="310.9" y="465.5" text-anchor="middle">100</text>
<text x="445.3" y="465.5" text-anchor="middle">200</text>
<text x="579.7" y="465.5" text-anchor="middle">300</text>
<text x="714.1" y="465.5" text-anchor="middle">400</text>
<text x="902" y="223.8" text-anchor="end">15</text>
<text x="902" y="289.5" text-anchor="end">10</text>
<text x="902" y="355.2" text-anchor="end">5</text>
<text x="902" y="421.0" text-anchor="end">0</text>
<text x="902" y="486.8" text-anchor="end">-5</text>
<text x="902" y="552.5" text-anchor="end">-10</text>
<text x="902" y="618.2" text-anchor="end">-15</text>
<text x="806.0" y="466.0" text-anchor="middle">-100</text>
<text x="935.5" y="466.0" text-anchor="middle">0</text>
<text x="1062.0" y="466.0" text-anchor="middle">100</text>
<text x="1188.5" y="466.0" text-anchor="middle">200</text>
<text x="1315.0" y="466.0" text-anchor="middle">300</text>
<text x="1441.5" y="466.0" text-anchor="middle">400</text>
<text x="137" y="858.0" text-anchor="end">15</text>
<text x="137" y="926.0" text-anchor="end">10</text>
<text x="137" y="994.0" text-anchor="end">5</text>
<text x="137" y="1062.0" text-anchor="end">0</text>
<text x="137" y="1130.0" text-anchor="end">-5</text>
<text x="137" y="1198.0" text-anchor="end">-10</text>
<text x="34.2" y="1106.5" text-anchor="middle">-100</text>
<text x="170.0" y="1106.5" text-anchor="middle">0</text>
<text x="305.8" y="1106.5" text-anchor="middle">100</text>
<text x="441.6" y="1106.5" text-anchor="middle">200</text>
<text x="577.4" y="1106.5" text-anchor="middle">300</text>
<text x="713.2" y="1106.5" text-anchor="middle">400</text>
<text x="916" y="862.0" text-anchor="end">15</text>
<text x="916" y="927.0" text-anchor="end">10</text>
<text x="916" y="992.0" text-anchor="end">5</text>
<text x="916" y="1057.0" text-anchor="end">0</text>
<text x="916" y="1122.0" text-anchor="end">-5</text>
<text x="916" y="1187.0" text-anchor="end">-10</text>
<text x="822.0" y="1102.5" text-anchor="middle">-100</text>
<text x="950.0" y="1102.5" text-anchor="middle">0</text>
<text x="1078.0" y="1102.5" text-anchor="middle">100</text>
<text x="1206.0" y="1102.5" text-anchor="middle">200</text>
<text x="1334.0" y="1102.5" text-anchor="middle">300</text>
<text x="1462.0" y="1102.5" text-anchor="middle">400</text>
</g>
<text class="t" x="25.4" y="58.3" font-size="78.4"><tspan font-size="77">Left-delay </tspan><tspan dx="5.5">(L)</tspan></text>
<text class="t" x="30.3" y="769.6" font-size="78"><tspan font-size="76.3">Right-delay </tspan><tspan dx="8">(R)</tspan></text>
<text class="t" x="276.5" y="151" font-size="52">Left hemisphere</text>
<text class="t" x="1022" y="151" font-size="52">Right hemisphere</text>
<text class="t" x="-1" y="254.5" font-size="41.5">(nAm)</text>
<text class="t" x="604.5" y="504" font-size="41.5">(ms)</text>
<text class="t" x="1034.5" y="230.5" font-size="41.5">N100m</text>
<path d="M1088 248.4 H1101.2 V293.3 H1108.4 L1094.4 307.5 L1080.2 293.3 H1088 Z" fill="#0d0d0d"/>

<line x1="77" y1="1306.3" x2="166" y2="1306.3" stroke="#77933C" stroke-width="8"/>
<text class="t" x="196" y="1322.3" font-size="50">1D</text>
<line x1="345" y1="1306.3" x2="435" y2="1306.3" stroke="#00B0F0" stroke-width="8"/>
<text class="t" x="461" y="1322.3" font-size="50">2D</text>
<line x1="616" y1="1306.3" x2="705" y2="1306.3" stroke="#FF0000" stroke-width="8"/>
<text class="t" x="733" y="1322.3" font-size="50">3D</text>
<line x1="887" y1="1306.3" x2="976" y2="1306.3" stroke="#000000" stroke-width="8"/>
<text class="t" x="1007" y="1322.3" font-size="50">1S</text>
<line x1="1155" y1="1306.3" x2="1245" y2="1306.3" stroke="#FFC000" stroke-width="8"/>
<text class="t" x="1272" y="1322.3" font-size="50">2S</text>
</svg>
</body></html>
